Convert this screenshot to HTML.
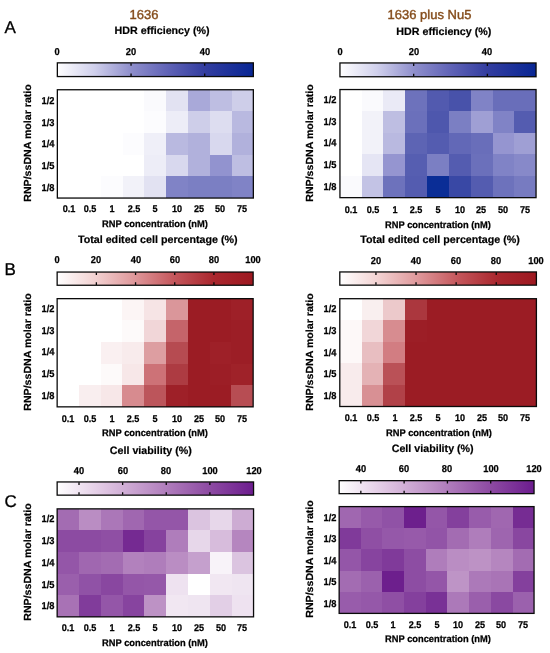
<!DOCTYPE html>
<html><head><meta charset="utf-8"><title>Figure</title><style>
html,body{margin:0;padding:0;background:#fff}
#fig{position:relative;width:550px;height:653px;overflow:hidden;background:#fff;font-family:"Liberation Sans",Arial,sans-serif;color:#000;text-rendering:geometricPrecision}
.t{position:absolute;white-space:nowrap;line-height:1;transform:translate(-50%,-50%);font-weight:bold;-webkit-text-stroke:.2px #000}
.hm{position:absolute;display:grid;grid-template-columns:repeat(9,1fr);grid-template-rows:repeat(5,1fr)}
.cb{position:absolute}
#ov{position:absolute;left:0;top:0}
.tk{position:absolute;width:1px;background:#000}
.yl{position:absolute;white-space:nowrap;line-height:1;font-weight:bold;transform:translate(-50%,-50%) rotate(-90deg) scaleX(1.03);-webkit-text-stroke:.2px #000}
.pl{position:absolute;white-space:nowrap;line-height:1;font-size:17px;-webkit-text-stroke:.3px #000}
.ttl{position:absolute;white-space:nowrap;line-height:1;transform:translate(-50%,-50%);color:#854d1c;font-size:13px;-webkit-text-stroke:.4px #854d1c}
.hm i{display:block}</style></head><body><div id="fig">
<div class="cb" style="left:57.2px;top:62.7px;width:196.3px;height:14px;background:linear-gradient(to right,rgb(255,255,255) 0%,rgb(208,208,236) 19%,rgb(142,142,203) 38%,rgb(97,100,183) 56%,rgb(52,62,160) 75%,rgb(8,38,148) 100%)"></div>
<div class="t" style="left:57.4px;top:53.0px;font-size:10px;transform:translate(-50%,-50%) scaleX(0.93);-webkit-text-stroke:.25px #000;">0</div>
<div class="t" style="left:131.05px;top:53.0px;font-size:10px;transform:translate(-50%,-50%) scaleX(0.93);-webkit-text-stroke:.25px #000;">20</div>
<div class="t" style="left:204.69px;top:53.0px;font-size:10px;transform:translate(-50%,-50%) scaleX(0.93);-webkit-text-stroke:.25px #000;">40</div>
<div class="t" style="left:162.1px;top:30.9px;font-size:10.7px;">HDR efficiency (%)</div>
<div class="hm" style="left:57.2px;top:89.6px;width:196.3px;height:108.6px"><i style="background:rgb(255,255,255)"></i><i style="background:rgb(255,255,255)"></i><i style="background:rgb(255,255,255)"></i><i style="background:rgb(255,255,255)"></i><i style="background:rgb(250,250,253)"></i><i style="background:rgb(226,226,242)"></i><i style="background:rgb(169,169,217)"></i><i style="background:rgb(190,190,226)"></i><i style="background:rgb(206,206,233)"></i><i style="background:rgb(255,255,255)"></i><i style="background:rgb(255,255,255)"></i><i style="background:rgb(255,255,255)"></i><i style="background:rgb(255,255,255)"></i><i style="background:rgb(252,252,254)"></i><i style="background:rgb(237,237,247)"></i><i style="background:rgb(206,206,233)"></i><i style="background:rgb(221,221,240)"></i><i style="background:rgb(185,185,224)"></i><i style="background:rgb(255,255,255)"></i><i style="background:rgb(255,255,255)"></i><i style="background:rgb(255,255,255)"></i><i style="background:rgb(252,252,254)"></i><i style="background:rgb(239,239,248)"></i><i style="background:rgb(185,185,224)"></i><i style="background:rgb(177,177,220)"></i><i style="background:rgb(216,216,238)"></i><i style="background:rgb(177,177,220)"></i><i style="background:rgb(255,255,255)"></i><i style="background:rgb(255,255,255)"></i><i style="background:rgb(255,255,255)"></i><i style="background:rgb(255,255,255)"></i><i style="background:rgb(237,237,247)"></i><i style="background:rgb(216,216,238)"></i><i style="background:rgb(177,177,220)"></i><i style="background:rgb(146,147,207)"></i><i style="background:rgb(190,190,226)"></i><i style="background:rgb(255,255,255)"></i><i style="background:rgb(255,255,255)"></i><i style="background:rgb(252,252,254)"></i><i style="background:rgb(242,242,249)"></i><i style="background:rgb(226,226,242)"></i><i style="background:rgb(128,131,198)"></i><i style="background:rgb(123,127,195)"></i><i style="background:rgb(123,127,195)"></i><i style="background:rgb(128,131,198)"></i></div>
<div class="t" style="left:47.7px;top:101.76px;font-size:10px;transform:translate(-50%,-50%) scaleX(0.93);-webkit-text-stroke:.25px #000;">1/2</div>
<div class="t" style="left:47.7px;top:123.56px;font-size:10px;transform:translate(-50%,-50%) scaleX(0.93);-webkit-text-stroke:.25px #000;">1/3</div>
<div class="t" style="left:47.7px;top:145.36px;font-size:10px;transform:translate(-50%,-50%) scaleX(0.93);-webkit-text-stroke:.25px #000;">1/4</div>
<div class="t" style="left:47.7px;top:167.16px;font-size:10px;transform:translate(-50%,-50%) scaleX(0.93);-webkit-text-stroke:.25px #000;">1/5</div>
<div class="t" style="left:47.7px;top:188.96px;font-size:10px;transform:translate(-50%,-50%) scaleX(0.93);-webkit-text-stroke:.25px #000;">1/8</div>
<div class="t" style="left:68.55px;top:209.9px;font-size:9.8px;transform:translate(-50%,-50%) scaleX(0.93);-webkit-text-stroke:.25px #000;">0.1</div>
<div class="t" style="left:90.25px;top:209.9px;font-size:9.8px;transform:translate(-50%,-50%) scaleX(0.93);-webkit-text-stroke:.25px #000;">0.5</div>
<div class="t" style="left:111.95px;top:209.9px;font-size:9.8px;transform:translate(-50%,-50%) scaleX(0.93);-webkit-text-stroke:.25px #000;">1</div>
<div class="t" style="left:133.65px;top:209.9px;font-size:9.8px;transform:translate(-50%,-50%) scaleX(0.93);-webkit-text-stroke:.25px #000;">2.5</div>
<div class="t" style="left:155.35px;top:209.9px;font-size:9.8px;transform:translate(-50%,-50%) scaleX(0.93);-webkit-text-stroke:.25px #000;">5</div>
<div class="t" style="left:177.05px;top:209.9px;font-size:9.8px;transform:translate(-50%,-50%) scaleX(0.93);-webkit-text-stroke:.25px #000;">10</div>
<div class="t" style="left:198.75px;top:209.9px;font-size:9.8px;transform:translate(-50%,-50%) scaleX(0.93);-webkit-text-stroke:.25px #000;">25</div>
<div class="t" style="left:220.45px;top:209.9px;font-size:9.8px;transform:translate(-50%,-50%) scaleX(0.93);-webkit-text-stroke:.25px #000;">50</div>
<div class="t" style="left:242.15px;top:209.9px;font-size:9.8px;transform:translate(-50%,-50%) scaleX(0.93);-webkit-text-stroke:.25px #000;">75</div>
<div class="t" style="left:155.35px;top:225.1px;font-size:9.6px;transform:translate(-50%,-50%) scaleX(0.97);-webkit-text-stroke:.25px #000;">RNP concentration (nM)</div>
<div class="yl" style="left:28.8px;top:143.0px;font-size:10.3px">RNP/ssDNA molar ratio</div>
<div class="cb" style="left:57.0px;top:271.9px;width:196.3px;height:13.5px;background:linear-gradient(to right,rgb(255,255,255) 0%,rgb(242,208,208) 20%,rgb(222,150,153) 40%,rgb(196,86,91) 60%,rgb(170,39,46) 80%,rgb(157,24,32) 100%)"></div>
<div class="t" style="left:57.2px;top:261.0px;font-size:10px;transform:translate(-50%,-50%) scaleX(0.93);-webkit-text-stroke:.25px #000;">0</div>
<div class="t" style="left:96.38px;top:261.0px;font-size:10px;transform:translate(-50%,-50%) scaleX(0.93);-webkit-text-stroke:.25px #000;">20</div>
<div class="t" style="left:135.56px;top:261.0px;font-size:10px;transform:translate(-50%,-50%) scaleX(0.93);-webkit-text-stroke:.25px #000;">40</div>
<div class="t" style="left:174.74px;top:261.0px;font-size:10px;transform:translate(-50%,-50%) scaleX(0.93);-webkit-text-stroke:.25px #000;">60</div>
<div class="t" style="left:213.92px;top:261.0px;font-size:10px;transform:translate(-50%,-50%) scaleX(0.93);-webkit-text-stroke:.25px #000;">80</div>
<div class="t" style="left:253.1px;top:261.0px;font-size:10px;transform:translate(-50%,-50%) scaleX(0.93);-webkit-text-stroke:.25px #000;">100</div>
<div class="t" style="left:157.75px;top:240.1px;font-size:10.7px;">Total edited cell percentage (%)</div>
<div class="hm" style="left:57.0px;top:298.5px;width:196.3px;height:108.5px"><i style="background:rgb(255,255,255)"></i><i style="background:rgb(255,255,255)"></i><i style="background:rgb(255,255,255)"></i><i style="background:rgb(252,245,245)"></i><i style="background:rgb(246,228,229)"></i><i style="background:rgb(218,150,154)"></i><i style="background:rgb(155,28,36)"></i><i style="background:rgb(155,28,36)"></i><i style="background:rgb(158,32,40)"></i><i style="background:rgb(255,255,255)"></i><i style="background:rgb(255,255,255)"></i><i style="background:rgb(255,255,255)"></i><i style="background:rgb(253,250,250)"></i><i style="background:rgb(241,214,216)"></i><i style="background:rgb(197,100,106)"></i><i style="background:rgb(155,28,36)"></i><i style="background:rgb(155,28,36)"></i><i style="background:rgb(156,30,38)"></i><i style="background:rgb(255,255,255)"></i><i style="background:rgb(255,255,255)"></i><i style="background:rgb(250,240,241)"></i><i style="background:rgb(248,235,236)"></i><i style="background:rgb(221,158,161)"></i><i style="background:rgb(182,75,81)"></i><i style="background:rgb(155,28,36)"></i><i style="background:rgb(158,32,40)"></i><i style="background:rgb(156,30,38)"></i><i style="background:rgb(255,255,255)"></i><i style="background:rgb(255,255,255)"></i><i style="background:rgb(253,250,250)"></i><i style="background:rgb(247,231,232)"></i><i style="background:rgb(205,114,119)"></i><i style="background:rgb(173,59,66)"></i><i style="background:rgb(155,28,36)"></i><i style="background:rgb(156,30,38)"></i><i style="background:rgb(159,34,41)"></i><i style="background:rgb(255,255,255)"></i><i style="background:rgb(249,238,239)"></i><i style="background:rgb(247,231,232)"></i><i style="background:rgb(215,139,143)"></i><i style="background:rgb(188,85,91)"></i><i style="background:rgb(158,32,40)"></i><i style="background:rgb(155,28,36)"></i><i style="background:rgb(155,28,36)"></i><i style="background:rgb(183,77,83)"></i></div>
<div class="t" style="left:47.5px;top:309.75px;font-size:10px;transform:translate(-50%,-50%) scaleX(0.93);-webkit-text-stroke:.25px #000;">1/2</div>
<div class="t" style="left:47.5px;top:331.53px;font-size:10px;transform:translate(-50%,-50%) scaleX(0.93);-webkit-text-stroke:.25px #000;">1/3</div>
<div class="t" style="left:47.5px;top:353.31px;font-size:10px;transform:translate(-50%,-50%) scaleX(0.93);-webkit-text-stroke:.25px #000;">1/4</div>
<div class="t" style="left:47.5px;top:375.09px;font-size:10px;transform:translate(-50%,-50%) scaleX(0.93);-webkit-text-stroke:.25px #000;">1/5</div>
<div class="t" style="left:47.5px;top:396.87px;font-size:10px;transform:translate(-50%,-50%) scaleX(0.93);-webkit-text-stroke:.25px #000;">1/8</div>
<div class="t" style="left:68.35px;top:419.5px;font-size:9.8px;transform:translate(-50%,-50%) scaleX(0.93);-webkit-text-stroke:.25px #000;">0.1</div>
<div class="t" style="left:90.05px;top:419.5px;font-size:9.8px;transform:translate(-50%,-50%) scaleX(0.93);-webkit-text-stroke:.25px #000;">0.5</div>
<div class="t" style="left:111.75px;top:419.5px;font-size:9.8px;transform:translate(-50%,-50%) scaleX(0.93);-webkit-text-stroke:.25px #000;">1</div>
<div class="t" style="left:133.45px;top:419.5px;font-size:9.8px;transform:translate(-50%,-50%) scaleX(0.93);-webkit-text-stroke:.25px #000;">2.5</div>
<div class="t" style="left:155.15px;top:419.5px;font-size:9.8px;transform:translate(-50%,-50%) scaleX(0.93);-webkit-text-stroke:.25px #000;">5</div>
<div class="t" style="left:176.85px;top:419.5px;font-size:9.8px;transform:translate(-50%,-50%) scaleX(0.93);-webkit-text-stroke:.25px #000;">10</div>
<div class="t" style="left:198.55px;top:419.5px;font-size:9.8px;transform:translate(-50%,-50%) scaleX(0.93);-webkit-text-stroke:.25px #000;">25</div>
<div class="t" style="left:220.25px;top:419.5px;font-size:9.8px;transform:translate(-50%,-50%) scaleX(0.93);-webkit-text-stroke:.25px #000;">50</div>
<div class="t" style="left:241.95px;top:419.5px;font-size:9.8px;transform:translate(-50%,-50%) scaleX(0.93);-webkit-text-stroke:.25px #000;">75</div>
<div class="t" style="left:155.15px;top:433.9px;font-size:9.6px;transform:translate(-50%,-50%) scaleX(0.97);-webkit-text-stroke:.25px #000;">RNP concentration (nM)</div>
<div class="yl" style="left:28.6px;top:351.85px;font-size:10.3px">RNP/ssDNA molar ratio</div>
<div class="cb" style="left:57.0px;top:481.8px;width:196.7px;height:13.5px;background:linear-gradient(to right,rgb(255,255,255) 0%,rgb(222,195,225) 25%,rgb(185,138,195) 50%,rgb(145,80,165) 75%,rgb(108,28,142) 100%)"></div>
<div class="t" style="left:79.01px;top:471.5px;font-size:10px;transform:translate(-50%,-50%) scaleX(0.93);-webkit-text-stroke:.25px #000;">40</div>
<div class="t" style="left:122.63px;top:471.5px;font-size:10px;transform:translate(-50%,-50%) scaleX(0.93);-webkit-text-stroke:.25px #000;">60</div>
<div class="t" style="left:166.26px;top:471.5px;font-size:10px;transform:translate(-50%,-50%) scaleX(0.93);-webkit-text-stroke:.25px #000;">80</div>
<div class="t" style="left:209.88px;top:471.5px;font-size:10px;transform:translate(-50%,-50%) scaleX(0.93);-webkit-text-stroke:.25px #000;">100</div>
<div class="t" style="left:253.5px;top:471.5px;font-size:10px;transform:translate(-50%,-50%) scaleX(0.93);-webkit-text-stroke:.25px #000;">120</div>
<div class="t" style="left:150.85px;top:451.0px;font-size:10.7px;">Cell viability (%)</div>
<div class="hm" style="left:57.0px;top:508.7px;width:196.7px;height:108.3px"><i style="background:rgb(163,108,178)"></i><i style="background:rgb(186,141,195)"></i><i style="background:rgb(171,119,184)"></i><i style="background:rgb(160,103,176)"></i><i style="background:rgb(148,86,168)"></i><i style="background:rgb(148,86,168)"></i><i style="background:rgb(219,196,224)"></i><i style="background:rgb(231,215,234)"></i><i style="background:rgb(205,172,211)"></i><i style="background:rgb(140,75,162)"></i><i style="background:rgb(140,75,162)"></i><i style="background:rgb(143,79,164)"></i><i style="background:rgb(117,42,146)"></i><i style="background:rgb(134,66,158)"></i><i style="background:rgb(175,125,187)"></i><i style="background:rgb(231,215,234)"></i><i style="background:rgb(215,188,220)"></i><i style="background:rgb(181,134,191)"></i><i style="background:rgb(148,86,168)"></i><i style="background:rgb(160,103,176)"></i><i style="background:rgb(163,108,178)"></i><i style="background:rgb(178,129,189)"></i><i style="background:rgb(175,125,187)"></i><i style="background:rgb(186,141,195)"></i><i style="background:rgb(197,160,205)"></i><i style="background:rgb(248,243,249)"></i><i style="background:rgb(219,196,224)"></i><i style="background:rgb(154,95,172)"></i><i style="background:rgb(144,82,166)"></i><i style="background:rgb(137,71,160)"></i><i style="background:rgb(148,86,168)"></i><i style="background:rgb(149,88,169)"></i><i style="background:rgb(238,226,240)"></i><i style="background:rgb(255,255,255)"></i><i style="background:rgb(241,231,242)"></i><i style="background:rgb(239,229,241)"></i><i style="background:rgb(168,114,181)"></i><i style="background:rgb(129,60,155)"></i><i style="background:rgb(148,86,168)"></i><i style="background:rgb(135,68,159)"></i><i style="background:rgb(189,146,197)"></i><i style="background:rgb(241,231,242)"></i><i style="background:rgb(239,229,241)"></i><i style="background:rgb(226,207,230)"></i><i style="background:rgb(238,226,240)"></i></div>
<div class="t" style="left:47.5px;top:520.43px;font-size:10px;transform:translate(-50%,-50%) scaleX(0.93);-webkit-text-stroke:.25px #000;">1/2</div>
<div class="t" style="left:47.5px;top:542.17px;font-size:10px;transform:translate(-50%,-50%) scaleX(0.93);-webkit-text-stroke:.25px #000;">1/3</div>
<div class="t" style="left:47.5px;top:563.91px;font-size:10px;transform:translate(-50%,-50%) scaleX(0.93);-webkit-text-stroke:.25px #000;">1/4</div>
<div class="t" style="left:47.5px;top:585.65px;font-size:10px;transform:translate(-50%,-50%) scaleX(0.93);-webkit-text-stroke:.25px #000;">1/5</div>
<div class="t" style="left:47.5px;top:607.39px;font-size:10px;transform:translate(-50%,-50%) scaleX(0.93);-webkit-text-stroke:.25px #000;">1/8</div>
<div class="t" style="left:68.37px;top:628.5px;font-size:9.8px;transform:translate(-50%,-50%) scaleX(0.93);-webkit-text-stroke:.25px #000;">0.1</div>
<div class="t" style="left:90.12px;top:628.5px;font-size:9.8px;transform:translate(-50%,-50%) scaleX(0.93);-webkit-text-stroke:.25px #000;">0.5</div>
<div class="t" style="left:111.86px;top:628.5px;font-size:9.8px;transform:translate(-50%,-50%) scaleX(0.93);-webkit-text-stroke:.25px #000;">1</div>
<div class="t" style="left:133.61px;top:628.5px;font-size:9.8px;transform:translate(-50%,-50%) scaleX(0.93);-webkit-text-stroke:.25px #000;">2.5</div>
<div class="t" style="left:155.35px;top:628.5px;font-size:9.8px;transform:translate(-50%,-50%) scaleX(0.93);-webkit-text-stroke:.25px #000;">5</div>
<div class="t" style="left:177.09px;top:628.5px;font-size:9.8px;transform:translate(-50%,-50%) scaleX(0.93);-webkit-text-stroke:.25px #000;">10</div>
<div class="t" style="left:198.84px;top:628.5px;font-size:9.8px;transform:translate(-50%,-50%) scaleX(0.93);-webkit-text-stroke:.25px #000;">25</div>
<div class="t" style="left:220.58px;top:628.5px;font-size:9.8px;transform:translate(-50%,-50%) scaleX(0.93);-webkit-text-stroke:.25px #000;">50</div>
<div class="t" style="left:242.33px;top:628.5px;font-size:9.8px;transform:translate(-50%,-50%) scaleX(0.93);-webkit-text-stroke:.25px #000;">75</div>
<div class="t" style="left:155.35px;top:643.9px;font-size:9.6px;transform:translate(-50%,-50%) scaleX(0.97);-webkit-text-stroke:.25px #000;">RNP concentration (nM)</div>
<div class="yl" style="left:28.6px;top:561.95px;font-size:10.3px">RNP/ssDNA molar ratio</div>
<div class="cb" style="left:339.8px;top:62.8px;width:196.4px;height:14.1px;background:linear-gradient(to right,rgb(255,255,255) 0%,rgb(208,208,236) 19%,rgb(142,142,203) 38%,rgb(97,100,183) 56%,rgb(52,62,160) 75%,rgb(8,38,148) 100%)"></div>
<div class="t" style="left:340.0px;top:52.5px;font-size:10px;transform:translate(-50%,-50%) scaleX(0.93);-webkit-text-stroke:.25px #000;">0</div>
<div class="t" style="left:413.68px;top:52.5px;font-size:10px;transform:translate(-50%,-50%) scaleX(0.93);-webkit-text-stroke:.25px #000;">20</div>
<div class="t" style="left:487.37px;top:52.5px;font-size:10px;transform:translate(-50%,-50%) scaleX(0.93);-webkit-text-stroke:.25px #000;">40</div>
<div class="t" style="left:443.85px;top:31.9px;font-size:10.7px;">HDR efficiency (%)</div>
<div class="hm" style="left:339.8px;top:89.4px;width:196.4px;height:108.4px"><i style="background:rgb(255,255,255)"></i><i style="background:rgb(250,250,253)"></i><i style="background:rgb(234,234,246)"></i><i style="background:rgb(109,114,188)"></i><i style="background:rgb(82,90,175)"></i><i style="background:rgb(72,82,170)"></i><i style="background:rgb(128,131,198)"></i><i style="background:rgb(105,110,186)"></i><i style="background:rgb(105,110,186)"></i><i style="background:rgb(255,255,255)"></i><i style="background:rgb(242,242,249)"></i><i style="background:rgb(190,190,226)"></i><i style="background:rgb(107,112,187)"></i><i style="background:rgb(78,87,173)"></i><i style="background:rgb(123,127,195)"></i><i style="background:rgb(159,159,212)"></i><i style="background:rgb(128,131,198)"></i><i style="background:rgb(84,92,176)"></i><i style="background:rgb(255,255,255)"></i><i style="background:rgb(242,242,249)"></i><i style="background:rgb(185,185,224)"></i><i style="background:rgb(93,100,180)"></i><i style="background:rgb(84,92,176)"></i><i style="background:rgb(98,104,183)"></i><i style="background:rgb(105,110,186)"></i><i style="background:rgb(149,149,208)"></i><i style="background:rgb(159,159,212)"></i><i style="background:rgb(255,255,255)"></i><i style="background:rgb(229,229,244)"></i><i style="background:rgb(149,149,208)"></i><i style="background:rgb(86,94,177)"></i><i style="background:rgb(123,127,195)"></i><i style="background:rgb(84,92,176)"></i><i style="background:rgb(107,112,187)"></i><i style="background:rgb(128,131,198)"></i><i style="background:rgb(135,137,201)"></i><i style="background:rgb(250,250,253)"></i><i style="background:rgb(195,195,229)"></i><i style="background:rgb(109,114,188)"></i><i style="background:rgb(84,92,176)"></i><i style="background:rgb(10,45,150)"></i><i style="background:rgb(57,72,165)"></i><i style="background:rgb(84,92,176)"></i><i style="background:rgb(109,114,188)"></i><i style="background:rgb(119,123,193)"></i></div>
<div class="t" style="left:330.3px;top:100.94px;font-size:10px;transform:translate(-50%,-50%) scaleX(0.93);-webkit-text-stroke:.25px #000;">1/2</div>
<div class="t" style="left:330.3px;top:122.7px;font-size:10px;transform:translate(-50%,-50%) scaleX(0.93);-webkit-text-stroke:.25px #000;">1/3</div>
<div class="t" style="left:330.3px;top:144.46px;font-size:10px;transform:translate(-50%,-50%) scaleX(0.93);-webkit-text-stroke:.25px #000;">1/4</div>
<div class="t" style="left:330.3px;top:166.22px;font-size:10px;transform:translate(-50%,-50%) scaleX(0.93);-webkit-text-stroke:.25px #000;">1/5</div>
<div class="t" style="left:330.3px;top:187.98px;font-size:10px;transform:translate(-50%,-50%) scaleX(0.93);-webkit-text-stroke:.25px #000;">1/8</div>
<div class="t" style="left:351.16px;top:210.8px;font-size:9.8px;transform:translate(-50%,-50%) scaleX(0.93);-webkit-text-stroke:.25px #000;">0.1</div>
<div class="t" style="left:372.87px;top:210.8px;font-size:9.8px;transform:translate(-50%,-50%) scaleX(0.93);-webkit-text-stroke:.25px #000;">0.5</div>
<div class="t" style="left:394.58px;top:210.8px;font-size:9.8px;transform:translate(-50%,-50%) scaleX(0.93);-webkit-text-stroke:.25px #000;">1</div>
<div class="t" style="left:416.29px;top:210.8px;font-size:9.8px;transform:translate(-50%,-50%) scaleX(0.93);-webkit-text-stroke:.25px #000;">2.5</div>
<div class="t" style="left:438.0px;top:210.8px;font-size:9.8px;transform:translate(-50%,-50%) scaleX(0.93);-webkit-text-stroke:.25px #000;">5</div>
<div class="t" style="left:459.71px;top:210.8px;font-size:9.8px;transform:translate(-50%,-50%) scaleX(0.93);-webkit-text-stroke:.25px #000;">10</div>
<div class="t" style="left:481.42px;top:210.8px;font-size:9.8px;transform:translate(-50%,-50%) scaleX(0.93);-webkit-text-stroke:.25px #000;">25</div>
<div class="t" style="left:503.13px;top:210.8px;font-size:9.8px;transform:translate(-50%,-50%) scaleX(0.93);-webkit-text-stroke:.25px #000;">50</div>
<div class="t" style="left:524.84px;top:210.8px;font-size:9.8px;transform:translate(-50%,-50%) scaleX(0.93);-webkit-text-stroke:.25px #000;">75</div>
<div class="t" style="left:438.0px;top:225.6px;font-size:9.6px;transform:translate(-50%,-50%) scaleX(0.97);-webkit-text-stroke:.25px #000;">RNP concentration (nM)</div>
<div class="yl" style="left:311.4px;top:142.7px;font-size:10.3px">RNP/ssDNA molar ratio</div>
<div class="cb" style="left:339.65px;top:271.8px;width:196.9px;height:13.5px;background:linear-gradient(to right,rgb(255,255,255) 0%,rgb(242,208,208) 20%,rgb(222,150,153) 40%,rgb(196,86,91) 60%,rgb(170,39,46) 80%,rgb(157,24,32) 100%)"></div>
<div class="t" style="left:375.94px;top:261.5px;font-size:10px;transform:translate(-50%,-50%) scaleX(0.93);-webkit-text-stroke:.25px #000;">20</div>
<div class="t" style="left:416.04px;top:261.5px;font-size:10px;transform:translate(-50%,-50%) scaleX(0.93);-webkit-text-stroke:.25px #000;">40</div>
<div class="t" style="left:456.15px;top:261.5px;font-size:10px;transform:translate(-50%,-50%) scaleX(0.93);-webkit-text-stroke:.25px #000;">60</div>
<div class="t" style="left:496.25px;top:261.5px;font-size:10px;transform:translate(-50%,-50%) scaleX(0.93);-webkit-text-stroke:.25px #000;">80</div>
<div class="t" style="left:536.35px;top:261.5px;font-size:10px;transform:translate(-50%,-50%) scaleX(0.93);-webkit-text-stroke:.25px #000;">100</div>
<div class="t" style="left:440.1px;top:240.0px;font-size:10.7px;">Total edited cell percentage (%)</div>
<div class="hm" style="left:339.65px;top:298.55px;width:196.9px;height:108.1px"><i style="background:rgb(255,255,255)"></i><i style="background:rgb(249,239,239)"></i><i style="background:rgb(236,201,203)"></i><i style="background:rgb(171,55,62)"></i><i style="background:rgb(155,28,36)"></i><i style="background:rgb(155,28,36)"></i><i style="background:rgb(155,28,36)"></i><i style="background:rgb(155,28,36)"></i><i style="background:rgb(155,28,36)"></i><i style="background:rgb(253,248,248)"></i><i style="background:rgb(241,214,216)"></i><i style="background:rgb(215,140,144)"></i><i style="background:rgb(156,30,38)"></i><i style="background:rgb(155,28,36)"></i><i style="background:rgb(155,28,36)"></i><i style="background:rgb(155,28,36)"></i><i style="background:rgb(155,28,36)"></i><i style="background:rgb(155,28,36)"></i><i style="background:rgb(253,248,248)"></i><i style="background:rgb(232,190,193)"></i><i style="background:rgb(210,125,130)"></i><i style="background:rgb(155,28,36)"></i><i style="background:rgb(155,28,36)"></i><i style="background:rgb(155,28,36)"></i><i style="background:rgb(155,28,36)"></i><i style="background:rgb(155,28,36)"></i><i style="background:rgb(155,28,36)"></i><i style="background:rgb(248,235,236)"></i><i style="background:rgb(228,178,181)"></i><i style="background:rgb(186,81,87)"></i><i style="background:rgb(155,28,36)"></i><i style="background:rgb(155,28,36)"></i><i style="background:rgb(155,28,36)"></i><i style="background:rgb(155,28,36)"></i><i style="background:rgb(155,28,36)"></i><i style="background:rgb(155,28,36)"></i><i style="background:rgb(248,235,236)"></i><i style="background:rgb(216,144,148)"></i><i style="background:rgb(177,65,72)"></i><i style="background:rgb(155,28,36)"></i><i style="background:rgb(155,28,36)"></i><i style="background:rgb(155,28,36)"></i><i style="background:rgb(155,28,36)"></i><i style="background:rgb(155,28,36)"></i><i style="background:rgb(155,28,36)"></i></div>
<div class="t" style="left:330.15px;top:310.36px;font-size:10px;transform:translate(-50%,-50%) scaleX(0.93);-webkit-text-stroke:.25px #000;">1/2</div>
<div class="t" style="left:330.15px;top:332.06px;font-size:10px;transform:translate(-50%,-50%) scaleX(0.93);-webkit-text-stroke:.25px #000;">1/3</div>
<div class="t" style="left:330.15px;top:353.76px;font-size:10px;transform:translate(-50%,-50%) scaleX(0.93);-webkit-text-stroke:.25px #000;">1/4</div>
<div class="t" style="left:330.15px;top:375.46px;font-size:10px;transform:translate(-50%,-50%) scaleX(0.93);-webkit-text-stroke:.25px #000;">1/5</div>
<div class="t" style="left:330.15px;top:397.16px;font-size:10px;transform:translate(-50%,-50%) scaleX(0.93);-webkit-text-stroke:.25px #000;">1/8</div>
<div class="t" style="left:351.03px;top:419.15px;font-size:9.8px;transform:translate(-50%,-50%) scaleX(0.93);-webkit-text-stroke:.25px #000;">0.1</div>
<div class="t" style="left:372.8px;top:419.15px;font-size:9.8px;transform:translate(-50%,-50%) scaleX(0.93);-webkit-text-stroke:.25px #000;">0.5</div>
<div class="t" style="left:394.57px;top:419.15px;font-size:9.8px;transform:translate(-50%,-50%) scaleX(0.93);-webkit-text-stroke:.25px #000;">1</div>
<div class="t" style="left:416.33px;top:419.15px;font-size:9.8px;transform:translate(-50%,-50%) scaleX(0.93);-webkit-text-stroke:.25px #000;">2.5</div>
<div class="t" style="left:438.1px;top:419.15px;font-size:9.8px;transform:translate(-50%,-50%) scaleX(0.93);-webkit-text-stroke:.25px #000;">5</div>
<div class="t" style="left:459.87px;top:419.15px;font-size:9.8px;transform:translate(-50%,-50%) scaleX(0.93);-webkit-text-stroke:.25px #000;">10</div>
<div class="t" style="left:481.63px;top:419.15px;font-size:9.8px;transform:translate(-50%,-50%) scaleX(0.93);-webkit-text-stroke:.25px #000;">25</div>
<div class="t" style="left:503.4px;top:419.15px;font-size:9.8px;transform:translate(-50%,-50%) scaleX(0.93);-webkit-text-stroke:.25px #000;">50</div>
<div class="t" style="left:525.17px;top:419.15px;font-size:9.8px;transform:translate(-50%,-50%) scaleX(0.93);-webkit-text-stroke:.25px #000;">75</div>
<div class="t" style="left:438.7px;top:433.55px;font-size:9.6px;transform:translate(-50%,-50%) scaleX(0.97);-webkit-text-stroke:.25px #000;">RNP concentration (nM)</div>
<div class="yl" style="left:311.25px;top:351.7px;font-size:10.3px">RNP/ssDNA molar ratio</div>
<div class="cb" style="left:339.0px;top:480.5px;width:195.2px;height:13.3px;background:linear-gradient(to right,rgb(255,255,255) 0%,rgb(222,195,225) 25%,rgb(185,138,195) 50%,rgb(145,80,165) 75%,rgb(108,28,142) 100%)"></div>
<div class="t" style="left:360.84px;top:470.3px;font-size:10px;transform:translate(-50%,-50%) scaleX(0.93);-webkit-text-stroke:.25px #000;">40</div>
<div class="t" style="left:404.13px;top:470.3px;font-size:10px;transform:translate(-50%,-50%) scaleX(0.93);-webkit-text-stroke:.25px #000;">60</div>
<div class="t" style="left:447.42px;top:470.3px;font-size:10px;transform:translate(-50%,-50%) scaleX(0.93);-webkit-text-stroke:.25px #000;">80</div>
<div class="t" style="left:490.71px;top:470.3px;font-size:10px;transform:translate(-50%,-50%) scaleX(0.93);-webkit-text-stroke:.25px #000;">100</div>
<div class="t" style="left:534.0px;top:470.3px;font-size:10px;transform:translate(-50%,-50%) scaleX(0.93);-webkit-text-stroke:.25px #000;">120</div>
<div class="t" style="left:432.7px;top:448.7px;font-size:10.7px;">Cell viability (%)</div>
<div class="hm" style="left:339.0px;top:506.45px;width:195.2px;height:107.1px"><i style="background:rgb(160,103,176)"></i><i style="background:rgb(151,90,170)"></i><i style="background:rgb(144,82,166)"></i><i style="background:rgb(109,31,141)"></i><i style="background:rgb(148,86,168)"></i><i style="background:rgb(132,64,157)"></i><i style="background:rgb(152,92,171)"></i><i style="background:rgb(160,103,176)"></i><i style="background:rgb(118,44,147)"></i><i style="background:rgb(128,58,154)"></i><i style="background:rgb(143,79,164)"></i><i style="background:rgb(149,88,169)"></i><i style="background:rgb(151,90,170)"></i><i style="background:rgb(146,84,167)"></i><i style="background:rgb(163,108,178)"></i><i style="background:rgb(175,125,187)"></i><i style="background:rgb(158,101,175)"></i><i style="background:rgb(137,71,160)"></i><i style="background:rgb(148,86,168)"></i><i style="background:rgb(135,68,159)"></i><i style="background:rgb(128,58,154)"></i><i style="background:rgb(141,77,163)"></i><i style="background:rgb(175,125,187)"></i><i style="background:rgb(186,141,195)"></i><i style="background:rgb(189,146,197)"></i><i style="background:rgb(181,134,191)"></i><i style="background:rgb(163,108,178)"></i><i style="background:rgb(163,108,178)"></i><i style="background:rgb(155,97,173)"></i><i style="background:rgb(109,31,141)"></i><i style="background:rgb(141,77,163)"></i><i style="background:rgb(148,86,168)"></i><i style="background:rgb(190,148,198)"></i><i style="background:rgb(172,121,185)"></i><i style="background:rgb(169,116,182)"></i><i style="background:rgb(132,64,157)"></i><i style="background:rgb(152,92,171)"></i><i style="background:rgb(149,88,169)"></i><i style="background:rgb(143,79,164)"></i><i style="background:rgb(132,64,157)"></i><i style="background:rgb(121,49,150)"></i><i style="background:rgb(172,121,185)"></i><i style="background:rgb(154,95,172)"></i><i style="background:rgb(138,73,161)"></i><i style="background:rgb(155,97,173)"></i></div>
<div class="t" style="left:330.2px;top:518.66px;font-size:10px;transform:translate(-50%,-50%) scaleX(0.93);-webkit-text-stroke:.25px #000;">1/2</div>
<div class="t" style="left:330.2px;top:540.16px;font-size:10px;transform:translate(-50%,-50%) scaleX(0.93);-webkit-text-stroke:.25px #000;">1/3</div>
<div class="t" style="left:330.2px;top:561.66px;font-size:10px;transform:translate(-50%,-50%) scaleX(0.93);-webkit-text-stroke:.25px #000;">1/4</div>
<div class="t" style="left:330.2px;top:583.16px;font-size:10px;transform:translate(-50%,-50%) scaleX(0.93);-webkit-text-stroke:.25px #000;">1/5</div>
<div class="t" style="left:330.2px;top:604.66px;font-size:10px;transform:translate(-50%,-50%) scaleX(0.93);-webkit-text-stroke:.25px #000;">1/8</div>
<div class="t" style="left:350.29px;top:626.15px;font-size:9.8px;transform:translate(-50%,-50%) scaleX(0.93);-webkit-text-stroke:.25px #000;">0.1</div>
<div class="t" style="left:371.87px;top:626.15px;font-size:9.8px;transform:translate(-50%,-50%) scaleX(0.93);-webkit-text-stroke:.25px #000;">0.5</div>
<div class="t" style="left:393.44px;top:626.15px;font-size:9.8px;transform:translate(-50%,-50%) scaleX(0.93);-webkit-text-stroke:.25px #000;">1</div>
<div class="t" style="left:415.02px;top:626.15px;font-size:9.8px;transform:translate(-50%,-50%) scaleX(0.93);-webkit-text-stroke:.25px #000;">2.5</div>
<div class="t" style="left:436.6px;top:626.15px;font-size:9.8px;transform:translate(-50%,-50%) scaleX(0.93);-webkit-text-stroke:.25px #000;">5</div>
<div class="t" style="left:458.18px;top:626.15px;font-size:9.8px;transform:translate(-50%,-50%) scaleX(0.93);-webkit-text-stroke:.25px #000;">10</div>
<div class="t" style="left:479.76px;top:626.15px;font-size:9.8px;transform:translate(-50%,-50%) scaleX(0.93);-webkit-text-stroke:.25px #000;">25</div>
<div class="t" style="left:501.33px;top:626.15px;font-size:9.8px;transform:translate(-50%,-50%) scaleX(0.93);-webkit-text-stroke:.25px #000;">50</div>
<div class="t" style="left:522.91px;top:626.15px;font-size:9.8px;transform:translate(-50%,-50%) scaleX(0.93);-webkit-text-stroke:.25px #000;">75</div>
<div class="t" style="left:438.1px;top:640.45px;font-size:9.6px;transform:translate(-50%,-50%) scaleX(0.97);-webkit-text-stroke:.25px #000;">RNP concentration (nM)</div>
<div class="yl" style="left:310.6px;top:559.1px;font-size:10.3px">RNP/ssDNA molar ratio</div>
<div class="ttl" style="left:144px;top:14px">1636</div>
<div class="ttl" style="left:429.5px;top:13.8px">1636 plus Nu5</div>
<div class="pl" style="left:4.5px;top:18.9px">A</div>
<div class="pl" style="left:4.5px;top:261.2px">B</div>
<div class="pl" style="left:4.5px;top:492.5px">C</div>
<svg id="ov" width="550" height="653" viewBox="0 0 550 653" fill="none" stroke="#0a0a0a" stroke-width="1.3"><rect x="57.35" y="62.85" width="196.00" height="13.70"/><path d="M131.05 63.20v2.6M131.05 76.20v-2.6"/><path d="M204.69 63.20v2.6M204.69 76.20v-2.6"/><rect x="57.35" y="89.75" width="196.00" height="108.30"/><rect x="57.15" y="272.05" width="196.00" height="13.20"/><path d="M96.38 272.40v2.6M96.38 284.90v-2.6"/><path d="M135.56 272.40v2.6M135.56 284.90v-2.6"/><path d="M174.74 272.40v2.6M174.74 284.90v-2.6"/><path d="M213.92 272.40v2.6M213.92 284.90v-2.6"/><rect x="57.15" y="298.65" width="196.00" height="108.20"/><rect x="57.15" y="481.95" width="196.40" height="13.20"/><path d="M79.01 482.30v2.6M79.01 494.80v-2.6"/><path d="M122.63 482.30v2.6M122.63 494.80v-2.6"/><path d="M166.26 482.30v2.6M166.26 494.80v-2.6"/><path d="M209.88 482.30v2.6M209.88 494.80v-2.6"/><rect x="57.15" y="508.85" width="196.40" height="108.00"/><rect x="339.95" y="62.95" width="196.10" height="13.80"/><path d="M413.68 63.30v2.6M413.68 76.40v-2.6"/><path d="M487.37 63.30v2.6M487.37 76.40v-2.6"/><rect x="339.95" y="89.55" width="196.10" height="108.10"/><rect x="339.80" y="271.95" width="196.60" height="13.20"/><path d="M375.94 272.30v2.6M375.94 284.80v-2.6"/><path d="M416.04 272.30v2.6M416.04 284.80v-2.6"/><path d="M456.15 272.30v2.6M456.15 284.80v-2.6"/><path d="M496.25 272.30v2.6M496.25 284.80v-2.6"/><rect x="339.80" y="298.70" width="196.60" height="107.80"/><rect x="339.15" y="480.65" width="194.90" height="13.00"/><path d="M360.84 481.00v2.6M360.84 493.30v-2.6"/><path d="M404.13 481.00v2.6M404.13 493.30v-2.6"/><path d="M447.42 481.00v2.6M447.42 493.30v-2.6"/><path d="M490.71 481.00v2.6M490.71 493.30v-2.6"/><rect x="339.15" y="506.60" width="194.90" height="106.80"/></svg>
</div></body></html>
